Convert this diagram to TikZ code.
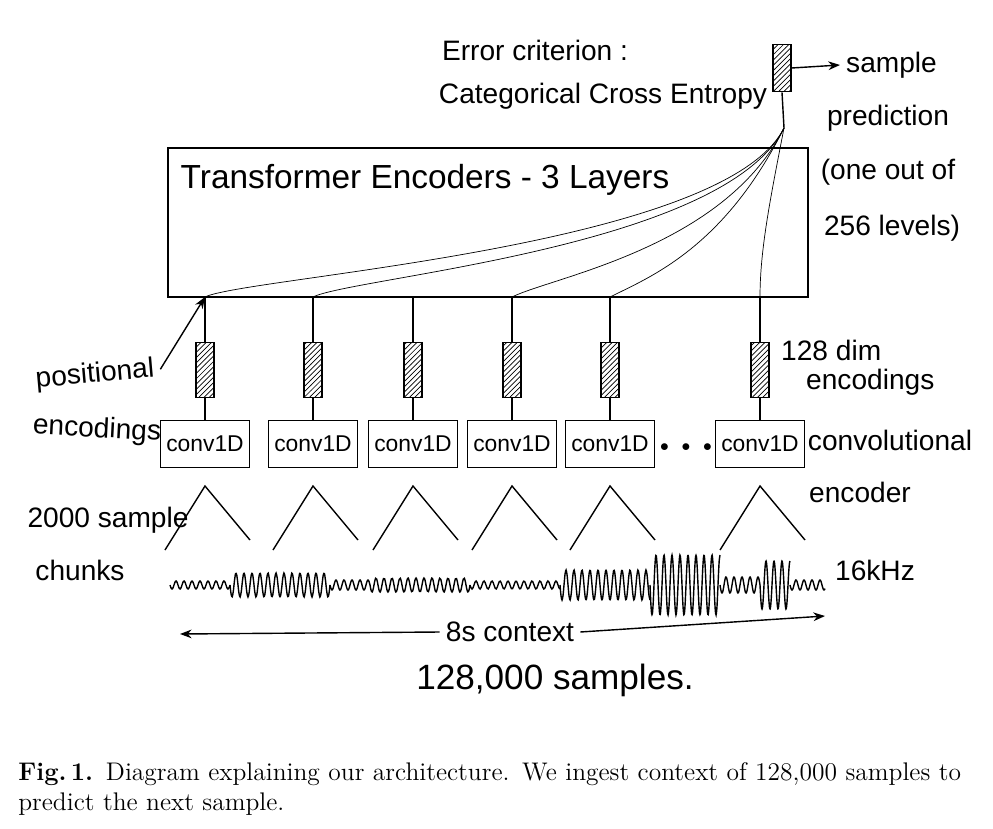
\documentclass[tikz,border=0pt]{standalone}
\usepackage{fontspec}
\newfontfamily\hand{Liberation Sans}
\usetikzlibrary{patterns,arrows.meta,calc}
\tikzset{
  lbl/.style={font=\hand\fontsize{16}{19}\selectfont, align=center},
  hatch/.style={draw, thick, pattern=north east lines, minimum width=0.36cm, minimum height=1.1cm, inner sep=0pt},
  conv/.style={draw, thick, fill=white, minimum width=1.5cm, minimum height=0.95cm, font=\hand\fontsize{13}{15}\selectfont},
  peak/.style={thick},
  wire/.style={thick}
}
\begin{document}
\begin{tikzpicture}[x=0.02cm, y=-0.02cm]
    \useasboundingbox (0,0) rectangle (993,828);

    % transformer block
    \draw[thick] (168,148) rectangle (808,297);
    \node[lbl, font=\hand\fontsize{19}{22}\selectfont] (tf) at (425,180) {Transformer Encoders - 3 Layers};

    % output
    \node[hatch, minimum height=0.95cm] (out) at (782,68) {};
    \coordinate (hub) at (784,128);
    \draw[wire] (out.south) -- (hub);
    \node[lbl, anchor=west] (smp) at (840,65) {sample};
    \draw[wire, -{Stealth}] (out.east) -- (smp.west);
    \node[lbl] (pred) at (888,118) {prediction};
    \node[lbl] (one) at (888,172) {(one out of};
    \node[lbl] (lev) at (892,228) {256 levels)};
    \node[lbl] (err) at (535,50) {Error criterion :};
    \node[lbl] (cce) at (603,96) {Categorical Cross Entropy};

    % columns
    \foreach \x/\n in {205/a,313/b,413/c,512/d,610/e,760/f}{
      \coordinate (top\n) at (\x,297);
      \node[hatch] (h\n) at (\x,370) {};
      \node[conv] (c\n) at (\x,444) {conv1D};
      \draw[wire] (top\n) -- (h\n.north);
      \draw[wire] (h\n.south) -- (c\n.north);
      \draw[peak] (\x-40,550) -- (\x,486) -- (\x+45,540);
    }
    \foreach \n in {a,b,d,e}{
      \draw (hub) .. controls ($(hub)+(-60,120)$) and ($(top\n)+(40,-20)$) .. (top\n);
    }
    \draw (hub) .. controls (770,200) and (760,250) .. (topf);
    \node[inner sep=0pt] (dots) at (686,448) {$\bullet\hspace{0.5em}\bullet\hspace{0.5em}\bullet$};

    % waveform
    \foreach \a/\b/\amp in {170/230/4,230/330/12,330/370/5,370/470/7,470/560/4,560/650/15,650/720/30,720/760/8,760/790/24,790/825/5}{
      \draw[thick, domain=0:\b-\a, samples=90, smooth] plot ({\a+\x},{585+\amp*sin(45*\x)});
    }

    % side labels
    \node[lbl, rotate=5] (pos) at (95,375) {positional};
    \node[lbl, rotate=-3] (enc) at (97,430) {encodings};
    \draw[wire, -{Stealth}] (pos.east) -- (topa);
    \node[lbl, anchor=west] (dim) at (775,350) {128 dim};
    \node[lbl, anchor=west] (dimenc) at (800,382) {encodings};
    \node[lbl] (convenc) at (890,440) {convolutional};
    \node[lbl] (encd) at (860,492) {encoder};
    \node[lbl] (chunk) at (108,520) {2000 sample};
    \node[lbl] (chunks) at (80,570) {chunks};
    \node[lbl] (khz) at (875,570) {16kHz};

    % context
    \node[lbl] (ctx) at (510,632) {8s context};
    \coordinate (cl) at (180,634);
    \coordinate (cr) at (825,616);
    \draw[wire, -{Stealth}] (ctx.west) -- (cl);
    \draw[wire, -{Stealth}] (ctx.east) -- (cr);
    \node[lbl, font=\hand\fontsize{20}{24}\selectfont] (tot) at (555,680) {128,000 samples.};

    % caption
    \node[anchor=north west, text width=19.4cm, align=left, font=\fontsize{14.5}{17}\selectfont, inner sep=0pt] (cap) at (18,762)
      {\textbf{Fig.\,1.} Diagram explaining our architecture. We ingest context of 128,000 samples to\\predict the next sample.};
\end{tikzpicture}
\end{document}
